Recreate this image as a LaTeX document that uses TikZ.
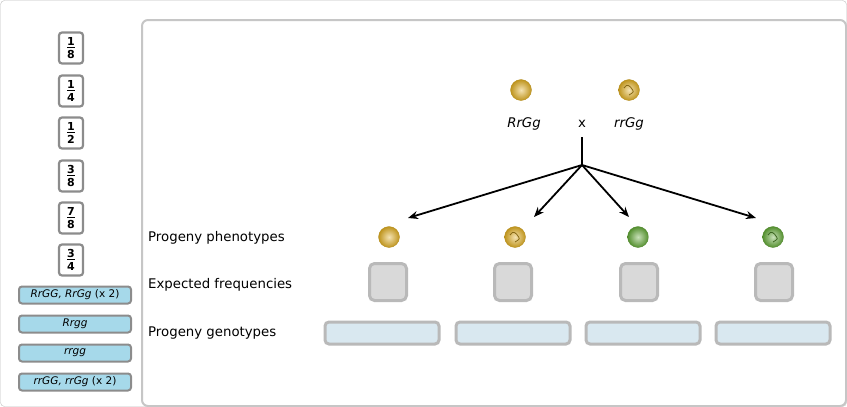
\documentclass[tikz,border=0pt]{standalone}
\usepackage{fontspec}
\setmainfont{DejaVu Sans}
\usetikzlibrary{arrows.meta,positioning}
\definecolor{tileblue}{HTML}{A6D9EA}
\definecolor{slotblue}{HTML}{D9E8F0}
\definecolor{peayel}{HTML}{E0AE22}
\definecolor{peagrn}{HTML}{62A836}
\begin{document}
\begin{tikzpicture}[x=1pt,y=-1pt,
    frac/.style={draw=gray!90, line width=2.2pt, rounded corners=3pt, fill=white, minimum width=24pt, minimum height=31pt, inner sep=0pt, font=\bfseries\fontsize{11}{13}\selectfont, align=center},
    geno/.style={draw=gray!90, line width=2pt, rounded corners=3pt, fill=tileblue, minimum width=112pt, minimum height=17pt, inner sep=0pt, font=\itshape\fontsize{10.5}{12}\selectfont},
    slot/.style={draw=gray!55, line width=3pt, rounded corners=5pt, fill=gray!30, minimum width=37pt, minimum height=37pt},
    gslot/.style={draw=gray!55, line width=3pt, rounded corners=4pt, fill=slotblue, minimum width=114pt, minimum height=22pt},
    lbl/.style={anchor=west, inner sep=0pt, font=\fontsize{13.3}{15}\selectfont},
    par/.style={inner sep=0pt, font=\itshape\fontsize{13.3}{15}\selectfont},
    smooth pea/.style={circle, minimum size=21pt, inner sep=0pt, shading=radial, inner color=#1!35!white, outer color=#1!85!black, draw=#1!80!black, line width=0.3pt},
    wrinkled pea/.style={smooth pea=#1,
      path picture={\draw[#1!60!black, line width=0.8pt] (path picture bounding box.center) ++(-5,-2) .. controls ++(3,-5) and ++(-2,-3) .. ++(8,1) .. controls ++(2,3) .. ++(-3,6);}},
    arr/.style={-{Stealth[length=10pt,width=8pt]}, line width=1.8pt}
  ]
    \useasboundingbox (0,0) rectangle (847,407);
    \draw[gray!50, rounded corners=4pt] (0.5,0.5) rectangle (846.5,406.5);
    \draw[gray!45, line width=2pt, fill=white, rounded corners=6pt] (142,20) -- (846,20) -- (846,406) -- (142,406) -- cycle;
    
    % answer tiles
    \node[frac] (f1) at (71,48) {\underline{1}\\8};
    \node[frac] (f2) at (71,91) {\underline{1}\\4};
    \node[frac] (f3) at (71,133) {\underline{1}\\2};
    \node[frac] (f4) at (71,176) {\underline{3}\\8};
    \node[frac] (f5) at (71,218) {\underline{7}\\8};
    \node[frac] (f6) at (71,260) {\underline{3}\\4};
    \node[geno] (g1) at (75,295) {RrGG, RrGg \upshape(x 2)};
    \node[geno] (g2) at (75,324) {Rrgg};
    \node[geno] (g3) at (75,353) {rrgg};
    \node[geno] (g4) at (75,382) {rrGG, rrGg \upshape(x 2)};
    
    % parents
    \node[smooth pea=peayel] (p1) at (521,90) {};
    \node[wrinkled pea=peayel] (p2) at (629,90) {};
    \node[par] (p1l) at (524,124) {RrGg};
    \node[par, font=\fontsize{13.3}{15}\selectfont] (cross) at (582,124) {x};
    \node[par] (p2l) at (629,124) {rrGg};
    \coordinate (top) at (582,137);
    \coordinate (hub) at (582,165);
    \draw[line width=1.8pt] (top) -- (hub);
    
    % progeny
    \node[lbl] (phen) at (148,238) {Progeny phenotypes};
    \node[lbl] (freq) at (148,285) {Expected frequencies};
    \node[lbl] (gen) at (148,333) {Progeny genotypes};
    \node[smooth pea=peayel] (c1) at (389,237) {};
    \node[wrinkled pea=peayel] (c2) at (515,237) {};
    \node[smooth pea=peagrn] (c3) at (638,237) {};
    \node[wrinkled pea=peagrn] (c4) at (773,237) {};
    \coordinate (e1) at (408,218);
    \coordinate (e2) at (534,217);
    \coordinate (e3) at (629,217);
    \coordinate (e4) at (756,218);
    \foreach \i in {1,...,4} \draw[arr] (hub) -- (e\i);
    
    \node[slot] (s1) at (388,282) {};
    \node[slot] (s2) at (513,282) {};
    \node[slot] (s3) at (639,282) {};
    \node[slot] (s4) at (774,282) {};
    \node[gslot] (t1) at (382,333) {};
    \node[gslot] (t2) at (513,333) {};
    \node[gslot] (t3) at (643,333) {};
    \node[gslot] (t4) at (773,333) {};
  \end{tikzpicture}
\end{document}
